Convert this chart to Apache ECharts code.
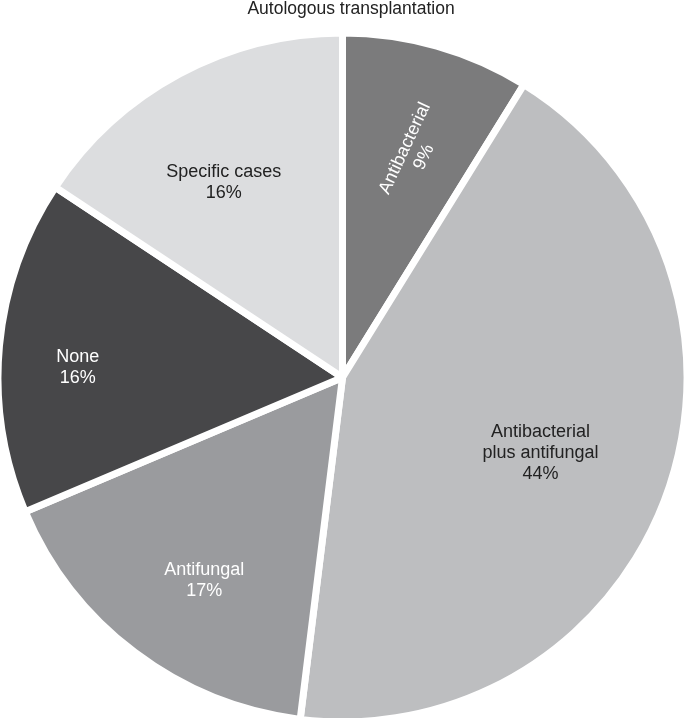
<!DOCTYPE html>
<html>
<head>
<meta charset="utf-8">
<script src="https://cdn.jsdelivr.net/npm/echarts@6/dist/echarts.min.js"></script>
<style>
  html, body { margin: 0; padding: 0; background: #fff; }
  #chart { width: 685px; height: 718px; }
</style>
</head>
<body>
<div id="chart"></div>
<script>
// Data
const chartTitle = 'Autologous transplantation';
const categories = ['Antibacterial', 'Antibacterial\nplus antifungal', 'Antifungal', 'None', 'Specific cases'];
const percentValues = [9, 44, 17, 16, 16];

// Styles
const sliceColors = ['#7b7b7c', '#bdbec0', '#9a9b9e', '#474749', '#dcdddf'];
const labelColors = ['#ffffff', '#222222', '#ffffff', '#ffffff', '#222222'];
const labelRotate = [65, 0, 0, 0, 0];
const labelRadius = [233, 209, 243, 262, 225];
const labelAngleShift = [1.9, 1.5, -2.9, -3.2, -3.2];
const pieCenter = [342.5, 377.5];
const pieRadius = 344.5;

const chart = echarts.init(document.getElementById('chart'), null, { renderer: 'canvas' });

const seriesData = categories.map((name, i) => ({
  name: name,
  value: percentValues[i],
  itemStyle: { color: sliceColors[i] },
  label: { color: labelColors[i], rotate: labelRotate[i] }
}));

// mid angle (radians, clockwise from 12 o'clock) of each slice, from the data
const total = percentValues.reduce((a, b) => a + b, 0);
const midAngles = [];
let acc = 0;
percentValues.forEach(v => {
  midAngles.push((acc + v / 2) / total * 2 * Math.PI);
  acc += v;
});

chart.setOption({
  animation: false,
  backgroundColor: '#ffffff',
  title: {
    text: chartTitle,
    left: 351,
    textAlign: 'center',
    top: 0,
    padding: 0,
    textStyle: { fontFamily: 'Liberation Sans, Arial, sans-serif', fontSize: 17.5, fontWeight: 'normal', color: '#222222' }
  },
  series: [{
    type: 'pie',
    center: pieCenter,
    radius: [0, pieRadius],
    startAngle: 90,
    clockwise: true,
    avoidLabelOverlap: false,
    itemStyle: { borderColor: '#ffffff', borderWidth: 7 },
    label: {
      show: true,
      position: 'inside',
      fontFamily: 'Liberation Sans, Arial, sans-serif',
      fontSize: 18,
      lineHeight: 21,
      align: 'center',
      formatter: p => p.name + '\n' + p.value + '%'
    },
    labelLine: { show: false },
    labelLayout: function (params) {
      const i = params.dataIndex;
      const m = midAngles[i];
      const a = m + labelAngleShift[i] * Math.PI / 180;
      const r0 = pieRadius / 2;
      // desired displacement in screen space
      const Dx = labelRadius[i] * Math.sin(a) - r0 * Math.sin(m);
      const Dy = -labelRadius[i] * Math.cos(a) + r0 * Math.cos(m);
      // offset is applied in the label's rotated frame
      const t = labelRotate[i] * Math.PI / 180;
      const c = Math.cos(t), s = Math.sin(t);
      return { dx: Dx * c - Dy * s, dy: Dx * s + Dy * c };
    },
    emphasis: { disabled: true },
    data: seriesData
  }]
});
</script>
</body>
</html>
